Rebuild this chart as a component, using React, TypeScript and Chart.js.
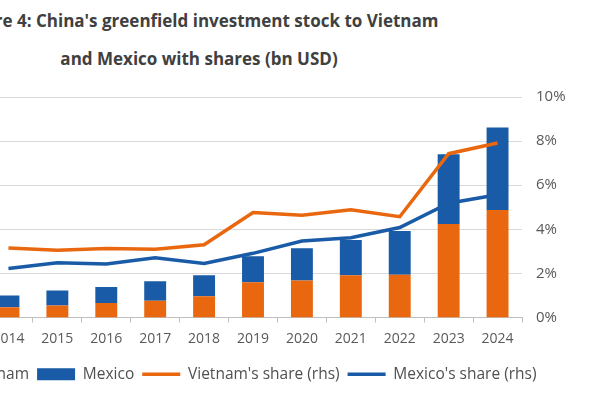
import React, { useEffect, useRef } from "react";
import { Chart, registerables } from "chart.js";

Chart.register(...registerables);

const years = ["2014", "2015", "2016", "2017", "2018", "2019", "2020", "2021", "2022", "2023", "2024"];
const vietnamStock = [2.3, 2.7, 3.3, 3.8, 4.8, 8.0, 8.4, 9.6, 9.7, 21.2, 24.4];
const mexicoStock = [2.7, 3.4, 3.6, 4.4, 4.8, 5.9, 7.3, 8.0, 9.9, 15.8, 18.7];
const vietnamShare = [3.15, 3.05, 3.13, 3.1, 3.3, 4.76, 4.64, 4.89, 4.57, 7.43, 7.91];
const mexicoShare = [2.22, 2.48, 2.43, 2.71, 2.45, 2.91, 3.47, 3.62, 4.08, 5.18, 5.57];
const titleLines = ["Figure 4: China's greenfield investment stock to Vietnam", "and Mexico with shares (bn USD)"];

const ORANGE = "#E9670F";
const BLUE = "#195BA6";
const FONT = "'Open Sans', 'Noto Sans', sans-serif";

export default function App() {
  const ref = useRef<HTMLCanvasElement | null>(null);

  useEffect(() => {
    if (!ref.current) return;
    const chart = new Chart(ref.current, {
      data: {
        labels: years,
        datasets: [
          { type: "bar", label: "Vietnam", data: vietnamStock, backgroundColor: ORANGE, borderColor: ORANGE, yAxisID: "y", stack: "s", order: 2, barPercentage: 0.56, categoryPercentage: 0.8 },
          { type: "bar", label: "Mexico", data: mexicoStock, backgroundColor: BLUE, borderColor: BLUE, yAxisID: "y", stack: "s", order: 2, barPercentage: 0.56, categoryPercentage: 0.8 },
          { type: "line", label: "Vietnam's share (rhs)", data: vietnamShare, borderColor: ORANGE, backgroundColor: ORANGE, borderWidth: 3.5, pointRadius: 0, yAxisID: "y1", order: 1, tension: 0 },
          { type: "line", label: "Mexico's share (rhs)", data: mexicoShare, borderColor: BLUE, backgroundColor: BLUE, borderWidth: 3.5, pointRadius: 0, yAxisID: "y1", order: 0, tension: 0 },
        ],
      } as any,
      options: {
        responsive: false,
        animation: false,
        devicePixelRatio: 1,
        layout: { padding: { top: 97, bottom: 8, left: 0, right: 0 } },
        plugins: {
          title: { display: false },
          tooltip: { enabled: false },
          legend: {
            position: "bottom",
            labels: {
              usePointStyle: true,
              pointStyleWidth: 38,
              boxHeight: 12,
              padding: 8,
              color: "#505050",
              font: { family: FONT, size: 15.5 },
              generateLabels: (c: any) =>
                c.data.datasets.map((ds: any, i: number) => ({
                  text: ds.label,
                  fillStyle: ds.backgroundColor,
                  strokeStyle: ds.borderColor,
                  lineWidth: ds.type === "line" ? 3.5 : 0,
                  pointStyle: ds.type === "line" ? "line" : "rect",
                  hidden: false,
                  datasetIndex: i,
                  fontColor: "#505050",
                })),
            },
          },
        },
        scales: {
          x: {
            stacked: true,
            grid: { drawOnChartArea: false, color: "#BFBFBF", tickLength: 5 },
            border: { color: "#BFBFBF" },
            ticks: { color: "#595959", font: { family: FONT, size: 14 }, padding: 8, maxRotation: 0 },
            afterFit: (s: any) => { s.height = 41; },
          },
          y: {
            stacked: true,
            position: "left",
            min: 0,
            max: 50,
            ticks: { display: false, stepSize: 10 },
            grid: { display: false },
            border: { display: false },
            afterFit: (s: any) => { s.width = 90; },
          },
          y1: {
            position: "right",
            min: 0,
            max: 10,
            ticks: { stepSize: 2, color: "#595959", font: { family: FONT, size: 15 }, padding: 14, callback: (v: any) => v + "%" },
            grid: { color: "#D9D9D9", drawTicks: false },
            border: { display: false },
            afterFit: (s: any) => { s.width = 44; },
          },
        },
      } as any,
    });
    return () => chart.destroy();
  }, []);

  return (
    <div>
      <div
        style={{
          position: "absolute",
          left: -101,
          top: 2,
          width: 600,
          textAlign: "center",
          fontFamily: FONT,
          fontWeight: 700,
          fontSize: 17,
          lineHeight: "37.5px",
          color: "#404040",
          whiteSpace: "nowrap",
        }}
      >
        {titleLines[0]}
        <br />
        {titleLines[1]}
      </div>
      <canvas ref={ref} width={672} height={400} style={{ position: "absolute", left: -106, top: 0, width: 672, height: 400 }} />
    </div>
  );
}
